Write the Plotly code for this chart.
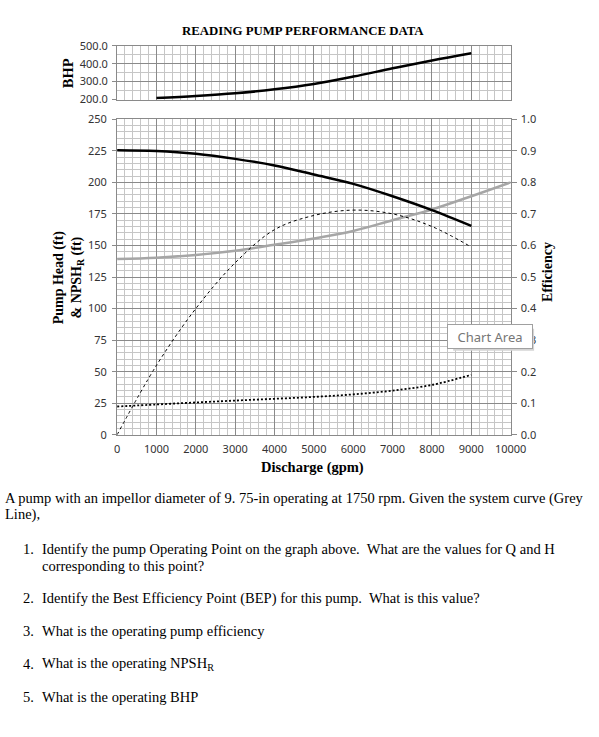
import plotly.graph_objects as go

W, H = 599, 737

# pump curves (gpm)
discharge = [0, 1000, 2000, 3000, 4000, 5000, 6000, 7000, 8000, 9000]
pump_head = [225.5, 224.8, 222.6, 218.6, 213.4, 206.2, 198.8, 189.0, 178.0, 165.5]
efficiency = [0.0, 0.22, 0.40, 0.545, 0.65, 0.695, 0.712, 0.70, 0.66, 0.595]
npsh_r = [22.4, 24.0, 25.6, 27.1, 28.5, 30.0, 32.0, 35.0, 39.5, 47.5]

# system curve (grey line)
system_q = [0, 1000, 2000, 3000, 4000, 5000, 6000, 7000, 8000, 9000, 10000]
system_head = [139.2, 140.3, 142.5, 145.8, 150.5, 155.5, 161.5, 170.0, 178.5, 189.0, 200.0]

# brake horsepower
bhp_q = [1000, 2000, 3000, 4000, 5000, 6000, 7000, 8000, 9000]
bhp = [209, 220, 235, 257, 287, 328, 374, 418, 458]

intro = ["A pump with an impellor diameter of 9. 75-in operating at 1750 rpm. Given the system curve (Grey",
         "Line),"]
questions = [
    ["Identify the pump Operating Point on the graph above.  What are the values for Q and H",
     "corresponding to this point?"],
    ["Identify the Best Efficiency Point (BEP) for this pump.  What is this value?"],
    ["What is the operating pump efficiency"],
    ["What is the operating NPSH<sub>R</sub>"],
    ["What is the operating BHP"],
]
question_y = [549, 598, 631, 664, 697]

# the photographed page lands a little inset and shrunk, so positions
# taken from the reference picture are mapped back to page pixels
SX_A, SX_B = 3.5, 0.969
SY_A, SY_B = 6.5, 0.982


def px(s):
    return max((s - SX_A) / SX_B, 0) / W


def py(s):
    return 1 - (s - SY_A) / SY_B / H


serif = "Liberation Serif"
tickfont = dict(family="Noto Sans", size=11, color="#333333")
major = "#8a8a8a"
minor_c = "#c6c6c6"

fig = go.Figure()
fig.add_trace(go.Scatter(x=system_q, y=system_head, mode="lines",
                         line=dict(color="#a6a6a6", width=2.5, shape="spline")))
fig.add_trace(go.Scatter(x=discharge, y=pump_head, mode="lines",
                         line=dict(color="black", width=2.5, shape="spline")))
fig.add_trace(go.Scatter(x=discharge, y=npsh_r, mode="lines",
                         line=dict(color="black", width=1.8, dash="2px,2px", shape="spline")))
fig.add_trace(go.Scatter(x=discharge, y=efficiency, mode="lines", yaxis="y2",
                         line=dict(color="black", width=1, dash="3px,3px", shape="spline")))
fig.add_trace(go.Scatter(x=bhp_q, y=bhp, mode="lines", xaxis="x2", yaxis="y3",
                         line=dict(color="black", width=2.5, shape="spline")))

xdom = [px(117.7), px(511.5)]
grid_x = dict(domain=xdom, range=[0, 10000], dtick=1000, showgrid=True, gridcolor=major,
              gridwidth=1, zeroline=False, showline=True, linecolor=major, mirror=True,
              minor=dict(dtick=200, showgrid=True, gridcolor=minor_c, gridwidth=1),
              tickfont=tickfont, tickformat="d", fixedrange=True)

fig.update_layout(
    width=W, height=H,
    margin=dict(l=0, r=0, t=0, b=0),
    paper_bgcolor="white", plot_bgcolor="white",
    showlegend=False,
    xaxis=dict(grid_x, anchor="y", ticks="", ticklabelstandoff=4),
    yaxis=dict(domain=[py(434.3), py(118)], range=[0, 250], dtick=25, showgrid=True,
               gridcolor=major, zeroline=False, showline=True, linecolor=major, mirror=True,
               minor=dict(dtick=5, showgrid=True, gridcolor=minor_c),
               ticks="outside", ticklen=4, tickcolor=major, tickfont=tickfont,
               ticklabelstandoff=3, fixedrange=True),
    yaxis2=dict(overlaying="y", side="right", anchor="x", range=[0, 1], dtick=0.1,
                tickformat=".1f", showgrid=False, zeroline=False,
                ticks="outside", ticklen=5, tickcolor=major, tickfont=tickfont,
                ticklabelstandoff=2, fixedrange=True),
    xaxis2=dict(grid_x, anchor="y3", showticklabels=False, ticks=""),
    yaxis3=dict(domain=[py(98.3), py(44.3)], range=[200, 500], dtick=100, tickformat=".1f",
                showgrid=True, gridcolor=major, zeroline=False, showline=True,
                linecolor=major, mirror=True, anchor="x2",
                minor=dict(dtick=50, showgrid=True, gridcolor=minor_c),
                ticks="outside", ticklen=4, tickcolor=major, tickfont=tickfont,
                ticklabelstandoff=2, fixedrange=True),
)

ann = []
ann.append(dict(x=px(304), y=py(30), text="<b>READING PUMP PERFORMANCE DATA</b>",
                font=dict(family=serif, size=12.8, color="black")))
ann.append(dict(x=px(68), y=py(71.5), text="<b>BHP</b>", textangle=-90,
                font=dict(family=serif, size=14.5, color="black")))
ann.append(dict(x=px(69), y=py(276), text="<b>Pump Head (ft)<br>& NPSH<sub>R</sub> (ft)</b>",
                textangle=-90, font=dict(family=serif, size=14, color="black")))
ann.append(dict(x=px(549), y=py(271), text="<b>Efficiency</b>", textangle=-90,
                font=dict(family=serif, size=14, color="black")))
ann.append(dict(x=px(313), y=py(467), text="<b>Discharge (gpm)</b>",
                font=dict(family=serif, size=14.5, color="black")))

# excel tooltip left in the screenshot
ann.append(dict(x=px(491.2), y=py(335.3), text="Chart Area", width=84, height=23,
                bgcolor="white", bordercolor="#a0a0a0", borderwidth=1, borderpad=0,
                font=dict(family="Noto Sans", size=13, color="#767676")))

for i, line in enumerate(intro):
    ann.append(dict(x=px(0), y=py(498 + 16.5 * i), text=line, xanchor="left",
                    font=dict(family=serif, size=14.5, color="black")))
for n, (lines, y0) in enumerate(zip(questions, question_y)):
    ann.append(dict(x=px(22), y=py(y0), text=f"{n + 1}.", xanchor="left",
                    font=dict(family=serif, size=14.5, color="black")))
    for j, line in enumerate(lines):
        ann.append(dict(x=px(41), y=py(y0 + 17 * j), text=line, xanchor="left",
                        font=dict(family=serif, size=14.5, color="black")))

for a in ann:
    a.update(xref="paper", yref="paper", showarrow=False)
    a.setdefault("xanchor", "center")
    a.setdefault("yanchor", "middle")
fig.update_layout(annotations=ann)

# tooltip shadow
fig.add_shape(type="rect", xref="paper", yref="paper", layer="above",
              x0=px(454), x1=px(535), y0=py(350), y1=py(328),
              fillcolor="#d4d4d4", line=dict(width=0))

fig.write_html("out.html", config={"displayModeBar": False},
               post_script="document.body.style.margin='0';")
